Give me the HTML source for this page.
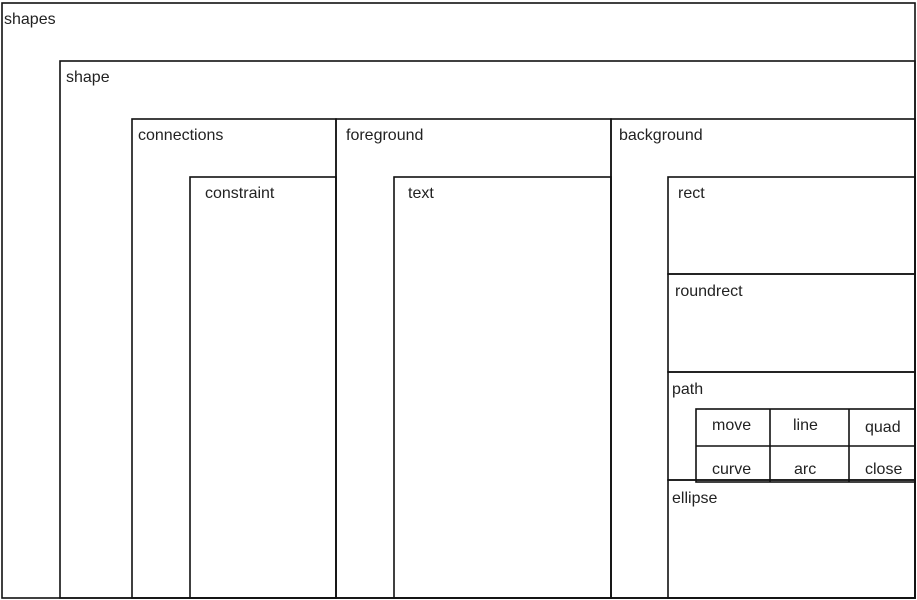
<!DOCTYPE html>
<html><head><meta charset="utf-8"><style>
html,body{margin:0;padding:0;background:#fff;}
svg{display:block;}
text{font-family:"Liberation Sans",Arial,sans-serif;font-size:16px;fill:#222;}
</style></head><body>
<svg width="917" height="600" viewBox="0 0 917 600" xmlns="http://www.w3.org/2000/svg">
<g fill="none" stroke="#111" stroke-width="1.6">
<rect x="2" y="3" width="913" height="595"/>
<rect x="60" y="61" width="855" height="537"/>
<rect x="132" y="119" width="204" height="479"/>
<rect x="190" y="177" width="146" height="421"/>
<rect x="336" y="119" width="275" height="479"/>
<rect x="394" y="177" width="217" height="421"/>
<rect x="611" y="119" width="304" height="479"/>
<rect x="668" y="177" width="247" height="97"/>
<rect x="668" y="274" width="247" height="98"/>
<rect x="668" y="372" width="247" height="108"/>
<rect x="668" y="480" width="247" height="118"/>
<rect x="696" y="409" width="219" height="73"/>
<line x1="696" y1="446" x2="915" y2="446"/>
<line x1="770" y1="409" x2="770" y2="482"/>
<line x1="849" y1="409" x2="849" y2="482"/>
</g>
<text x="4" y="24">shapes</text>
<text x="66" y="82">shape</text>
<text x="138" y="140">connections</text>
<text x="205" y="198">constraint</text>
<text x="346" y="140">foreground</text>
<text x="408" y="198">text</text>
<text x="619" y="140">background</text>
<text x="678" y="198">rect</text>
<text x="675" y="296">roundrect</text>
<text x="672" y="394">path</text>
<text x="712" y="430">move</text>
<text x="793" y="430">line</text>
<text x="865" y="432">quad</text>
<text x="712" y="474">curve</text>
<text x="794" y="474">arc</text>
<text x="865" y="474">close</text>
<text x="672" y="503">ellipse</text>
</svg>
</body></html>
